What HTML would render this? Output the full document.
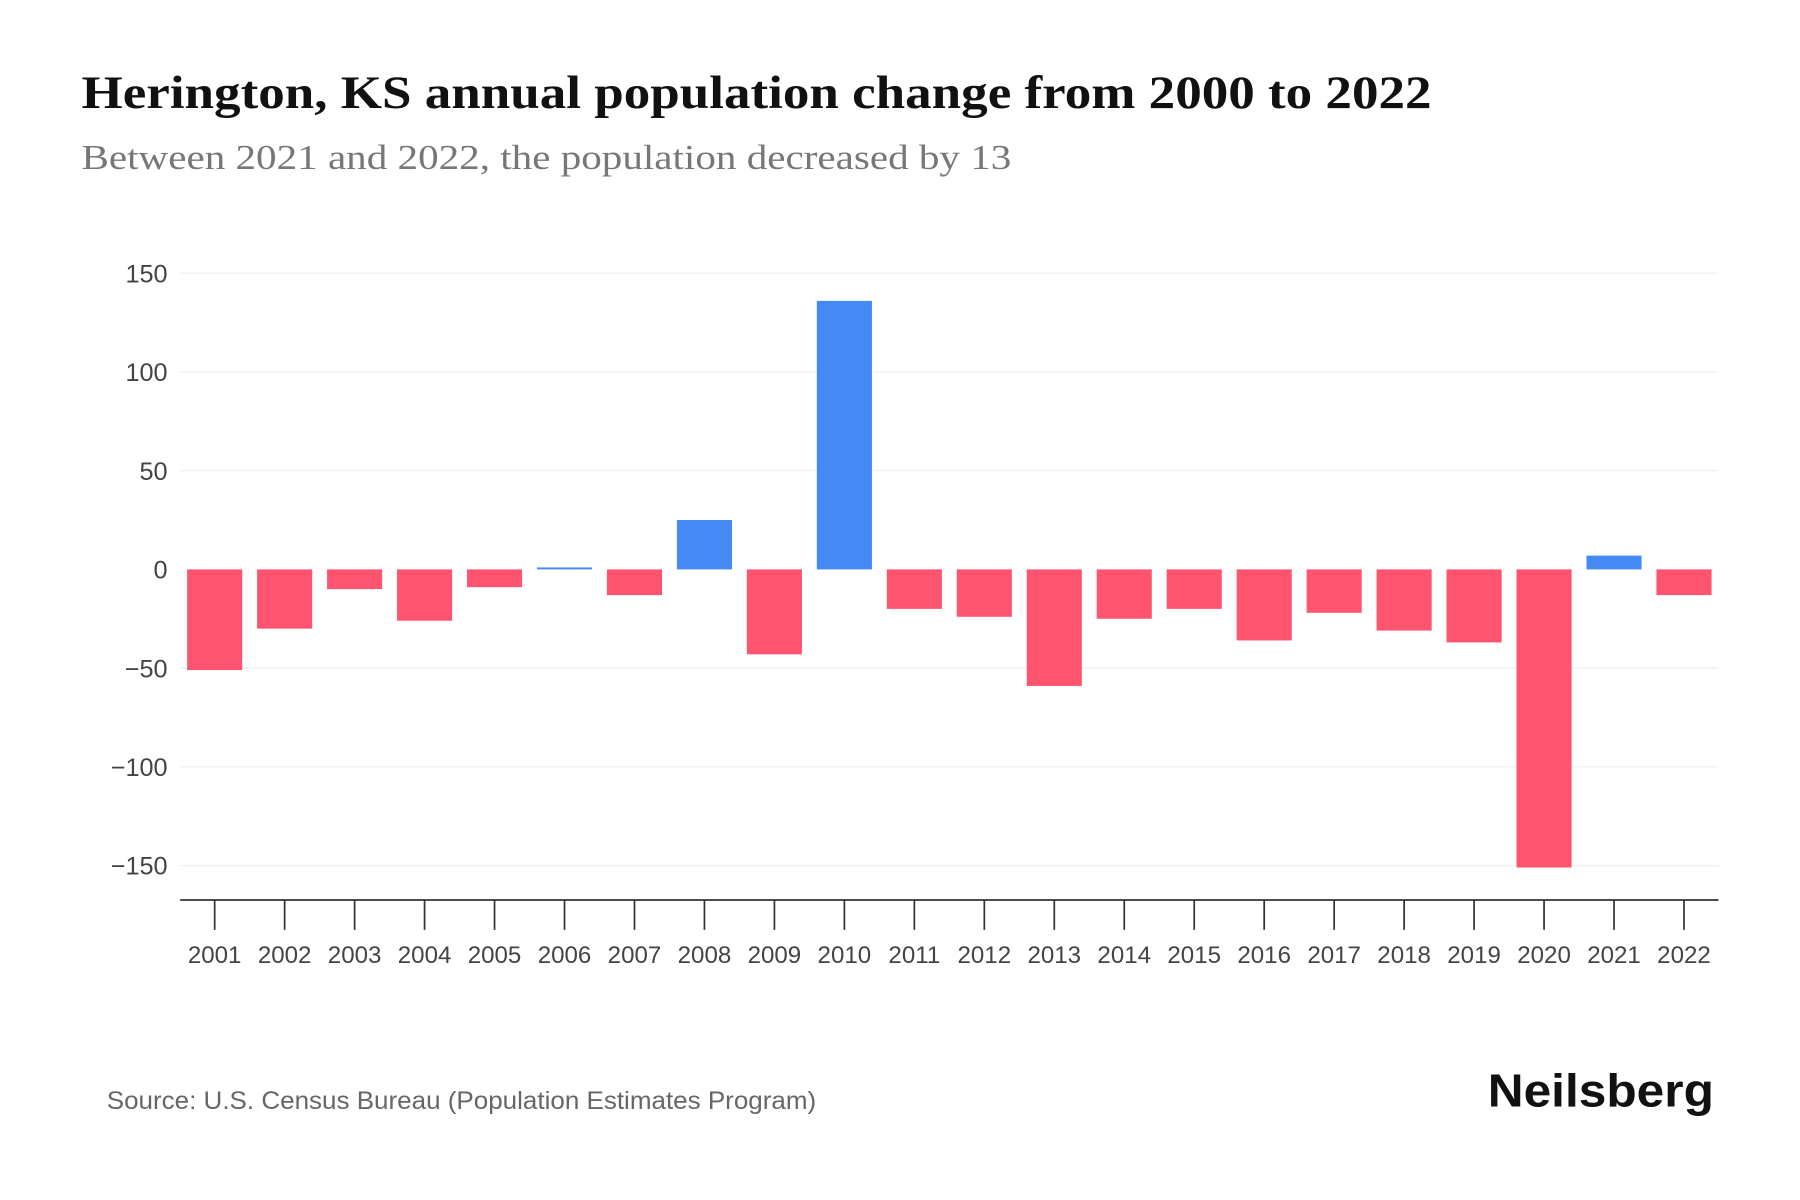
<!DOCTYPE html>
<html><head><meta charset="utf-8"><style>html,body{margin:0;padding:0;background:#fff}svg{display:block}</style></head>
<body>
<svg width="1800" height="1200" viewBox="0 0 1568 1045.33" preserveAspectRatio="none" xmlns="http://www.w3.org/2000/svg">
<rect width="1568" height="1046" fill="#fff"/>
<text x="71" y="94" font-family="Liberation Serif, serif" font-weight="bold" font-size="41" fill="#111" textLength="1176" lengthAdjust="spacingAndGlyphs">Herington, KS annual population change from 2000 to 2022</text>
<text x="71" y="147" font-family="Liberation Serif, serif" font-size="30" fill="#777" textLength="810" lengthAdjust="spacingAndGlyphs">Between 2021 and 2022, the population decreased by 13</text>
<g stroke="#eee" stroke-width="1">
<line x1="157" x2="1497" y1="238" y2="238"/><line x1="157" x2="1497" y1="324" y2="324"/><line x1="157" x2="1497" y1="410" y2="410"/><line x1="157" x2="1497" y1="582" y2="582"/><line x1="157" x2="1497" y1="668" y2="668"/><line x1="157" x2="1497" y1="754" y2="754"/>
</g>
<g font-family="Liberation Sans, sans-serif" font-size="22" fill="#444" text-anchor="end">
<text x="146" y="246">150</text><text x="146" y="332">100</text><text x="146" y="418">50</text><text x="146" y="504">0</text><text x="146" y="590">−50</text><text x="146" y="676">−100</text><text x="146" y="762">−150</text>
</g>
<g fill="#ff5470">
<rect x="163" y="496" width="48" height="87.7"/>
<rect x="223.95" y="496" width="48" height="51.6"/>
<rect x="284.9" y="496" width="48" height="17.2"/>
<rect x="345.85" y="496" width="48" height="44.7"/>
<rect x="406.8" y="496" width="48" height="15.5"/>
<rect x="528.7" y="496" width="48" height="22.4"/>
<rect x="650.6" y="496" width="48" height="74"/>
<rect x="772.5" y="496" width="48" height="34.4"/>
<rect x="833.45" y="496" width="48" height="41.3"/>
<rect x="894.4" y="496" width="48" height="101.5"/>
<rect x="955.35" y="496" width="48" height="43"/>
<rect x="1016.3" y="496" width="48" height="34.4"/>
<rect x="1077.25" y="496" width="48" height="61.9"/>
<rect x="1138.2" y="496" width="48" height="37.8"/>
<rect x="1199.15" y="496" width="48" height="53.3"/>
<rect x="1260.1" y="496" width="48" height="63.6"/>
<rect x="1321.05" y="496" width="48" height="259.7"/>
<rect x="1442.95" y="496" width="48" height="22.4"/>
</g>
<g fill="#4589f5">
<rect x="467.75" y="494.3" width="48" height="1.7"/>
<rect x="589.65" y="453" width="48" height="43"/>
<rect x="711.55" y="262.1" width="48" height="233.9"/>
<rect x="1382" y="484" width="48" height="12"/>
</g>
<line x1="157" x2="1497" y1="784" y2="784" stroke="#333" stroke-width="1.5"/>
<g stroke="#333" stroke-width="1.5">
<line x1="187" x2="187" y1="784" y2="810"/><line x1="247.95" x2="247.95" y1="784" y2="810"/><line x1="308.9" x2="308.9" y1="784" y2="810"/><line x1="369.85" x2="369.85" y1="784" y2="810"/><line x1="430.8" x2="430.8" y1="784" y2="810"/><line x1="491.75" x2="491.75" y1="784" y2="810"/><line x1="552.7" x2="552.7" y1="784" y2="810"/><line x1="613.65" x2="613.65" y1="784" y2="810"/><line x1="674.6" x2="674.6" y1="784" y2="810"/><line x1="735.55" x2="735.55" y1="784" y2="810"/><line x1="796.5" x2="796.5" y1="784" y2="810"/><line x1="857.45" x2="857.45" y1="784" y2="810"/><line x1="918.4" x2="918.4" y1="784" y2="810"/><line x1="979.35" x2="979.35" y1="784" y2="810"/><line x1="1040.3" x2="1040.3" y1="784" y2="810"/><line x1="1101.25" x2="1101.25" y1="784" y2="810"/><line x1="1162.2" x2="1162.2" y1="784" y2="810"/><line x1="1223.15" x2="1223.15" y1="784" y2="810"/><line x1="1284.1" x2="1284.1" y1="784" y2="810"/><line x1="1345.05" x2="1345.05" y1="784" y2="810"/><line x1="1406" x2="1406" y1="784" y2="810"/><line x1="1466.95" x2="1466.95" y1="784" y2="810"/>
</g>
<g font-family="Liberation Sans, sans-serif" font-size="21" fill="#444" text-anchor="middle">
<text x="187" y="839">2001</text><text x="247.95" y="839">2002</text><text x="308.9" y="839">2003</text><text x="369.85" y="839">2004</text><text x="430.8" y="839">2005</text><text x="491.75" y="839">2006</text><text x="552.7" y="839">2007</text><text x="613.65" y="839">2008</text><text x="674.6" y="839">2009</text><text x="735.55" y="839">2010</text><text x="796.5" y="839">2011</text><text x="857.45" y="839">2012</text><text x="918.4" y="839">2013</text><text x="979.35" y="839">2014</text><text x="1040.3" y="839">2015</text><text x="1101.25" y="839">2016</text><text x="1162.2" y="839">2017</text><text x="1223.15" y="839">2018</text><text x="1284.1" y="839">2019</text><text x="1345.05" y="839">2020</text><text x="1406" y="839">2021</text><text x="1466.95" y="839">2022</text>
</g>
<text x="93" y="966" font-family="Liberation Sans, sans-serif" font-size="22" fill="#666" textLength="618" lengthAdjust="spacingAndGlyphs">Source: U.S. Census Bureau (Population Estimates Program)</text>
<text x="1296" y="964" font-family="Liberation Sans, sans-serif" font-weight="bold" font-size="40" fill="#111" textLength="197" lengthAdjust="spacingAndGlyphs">Neilsberg</text>
</svg>
</body></html>
